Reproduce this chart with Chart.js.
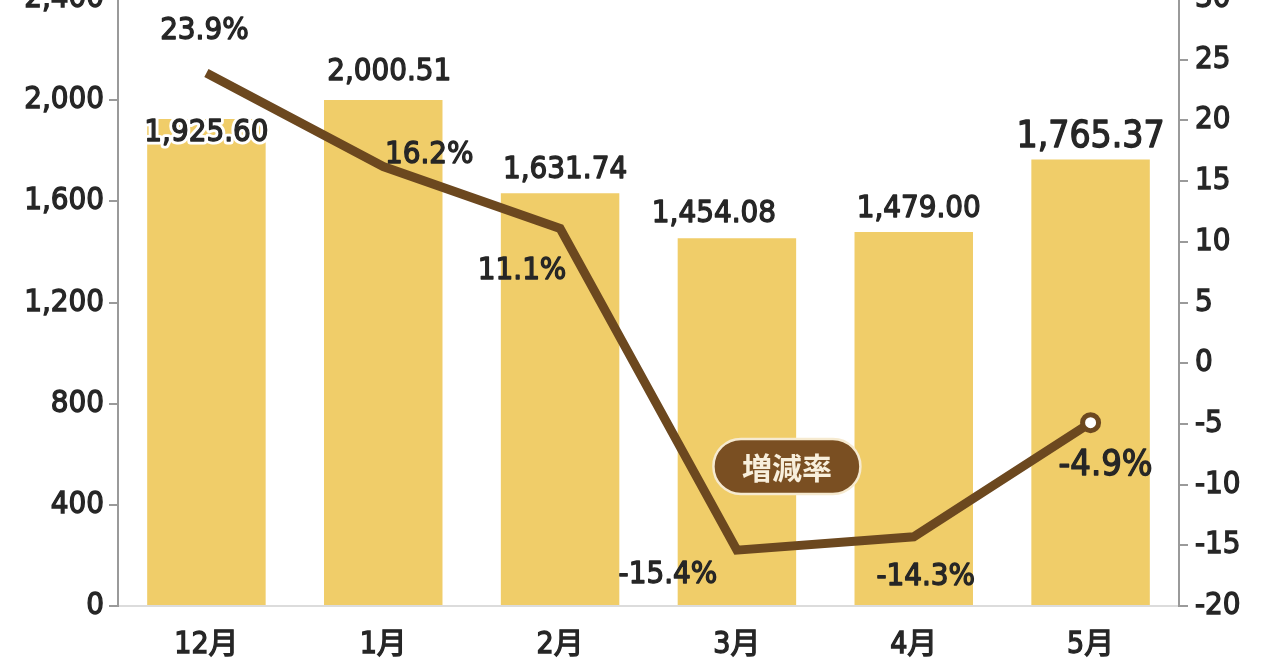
<!DOCTYPE html>
<html><head><meta charset="utf-8">
<script src="https://cdn.jsdelivr.net/npm/chart.js@4"></script>
<style>
html,body{margin:0;padding:0;background:#fff;overflow:hidden;width:1280px;height:669px;}
#wrap{position:absolute;left:0;top:-40px;width:1280px;height:709px;}
</style></head>
<body>
<div id="wrap"><canvas id="c"></canvas></div>
<script>
const categories = ['12月','1月','2月','3月','4月','5月'];
const salesValues = [1925.60, 2000.51, 1631.74, 1454.08, 1479.00, 1765.37];
const rateValues = [23.9, 16.2, 11.1, -15.4, -14.3, -4.9];
const leftTicks = [0, 400, 800, 1200, 1600, 2000, 2400];
const rightTicks = [-20, -15, -10, -5, 0, 5, 10, 15, 20, 25, 30];
const rateLabelName = '増減率';

// label placement (styles, not data)
const barLabelOffsets = [[0,14],[6,-28],[5,-23],[-23,-24],[5,-23],[0,-22]];
const rateLabelOffsets = [[-2,-42],[46,-12],[-38,43],[-69,25],[12,40],[15,43]];
const bigIndex = 5;

const FONT = "'DejaVu Sans Condensed', 'Noto Sans CJK JP', sans-serif";
const TEXT = '#262626';
const BROWN = '#6c481f';
const STROKE_W = 1.3;

const fmtSales = v => v.toLocaleString('en-US',{minimumFractionDigits:2,maximumFractionDigits:2});
const fmtRate = v => v.toFixed(1) + '%';

function boldText(ctx, s, x, y) {
  ctx.lineWidth = STROKE_W; ctx.strokeStyle = TEXT; ctx.lineJoin = 'round';
  ctx.strokeText(s, x, y);
  ctx.fillStyle = TEXT;
  ctx.fillText(s, x, y);
}

const labelPlugin = {
  id: 'labels',
  afterDatasetsDraw(chart) {
    const ctx = chart.ctx;
    const barMeta = chart.getDatasetMeta(1);
    const lineMeta = chart.getDatasetMeta(0);
    const yR = chart.scales.yR, x = chart.scales.x;
    ctx.save();
    ctx.textAlign = 'center';
    ctx.textBaseline = 'middle';
    // pill label
    const px = x.getPixelForValue(3) + 50, py = yR.getPixelForValue(-8.5);
    const w = 147, h = 55, r = 27.5;
    ctx.beginPath();
    ctx.roundRect(px - w/2, py - h/2, w, h, r);
    ctx.fillStyle = '#7a4f22';
    ctx.fill();
    ctx.lineWidth = 2.5;
    ctx.strokeStyle = '#f6ead0';
    ctx.stroke();
    ctx.fillStyle = '#f8efdc';
    ctx.font = "700 30px 'Noto Sans CJK JP', sans-serif";
    ctx.fillText(rateLabelName, px, py + 1);

    salesValues.forEach((v, i) => {
      const el = barMeta.data[i];
      const size = i === bigIndex ? 37 : 31;
      ctx.font = `${size}px ${FONT}`;
      const tx = el.x + barLabelOffsets[i][0], ty = el.y + barLabelOffsets[i][1];
      ctx.lineWidth = 7; ctx.strokeStyle = '#fff'; ctx.lineJoin = 'round';
      ctx.strokeText(fmtSales(v), tx, ty);
      boldText(ctx, fmtSales(v), tx, ty);
    });
    rateValues.forEach((v, i) => {
      const el = lineMeta.data[i];
      const size = i === bigIndex ? 36 : 31;
      ctx.font = `${size}px ${FONT}`;
      boldText(ctx, fmtRate(v), el.x + rateLabelOffsets[i][0], el.y + rateLabelOffsets[i][1]);
    });
    ctx.restore();
  }
};

const tickFont = { family: FONT, size: 31 };

new Chart(document.getElementById('c'), {
  data: {
    labels: categories,
    datasets: [
      {
        type: 'line', label: rateLabelName, data: rateValues, yAxisID: 'yR', order: 0,
        borderColor: BROWN, borderWidth: 9, tension: 0, fill: false,
        borderJoinStyle: 'miter', borderCapStyle: 'butt',
        pointRadius: rateValues.map((v, i) => i === rateValues.length - 1 ? 8 : 0),
        pointBackgroundColor: '#fff', pointBorderColor: BROWN, pointBorderWidth: 5,
        pointHoverRadius: 0
      },
      {
        type: 'bar', label: 'sales', data: salesValues, yAxisID: 'y', order: 1,
        backgroundColor: '#f0cd69', barPercentage: 0.67, categoryPercentage: 1.0
      }
    ]
  },
  options: {
    responsive: true, maintainAspectRatio: false, animation: false,
    layout: { padding: { top: 39, left: 0, right: 0, bottom: 0 } },
    plugins: { legend: { display: false }, tooltip: { enabled: false } },
    scales: {
      x: {
        grid: { display: false },
        border: { display: true, color: '#dcdcdc', width: 2 },
        ticks: { color: TEXT, font: { family: FONT, size: 30 }, padding: 13,
          textStrokeColor: TEXT, textStrokeWidth: STROKE_W },
        afterFit(s) { s.height = 63; }
      },
      y: {
        position: 'left', min: 0, max: 2400,
        afterBuildTicks(s) { s.ticks = leftTicks.map(v => ({ value: v })); },
        grid: { display: true, drawOnChartArea: false, drawTicks: true, tickLength: 9, color: '#9a9a9a', lineWidth: 2 },
        border: { display: true, color: '#9a9a9a', width: 2 },
        ticks: { color: TEXT, font: tickFont, padding: 5,
          textStrokeColor: TEXT, textStrokeWidth: STROKE_W,
          callback: v => v.toLocaleString('en-US') },
        afterFit(s) { s.width = 118; }
      },
      yR: {
        position: 'right', min: -20, max: 30,
        afterBuildTicks(s) { s.ticks = rightTicks.map(v => ({ value: v })); },
        grid: { display: true, drawOnChartArea: false, drawTicks: true, tickLength: 9, color: '#9a9a9a', lineWidth: 2 },
        border: { display: true, color: '#9a9a9a', width: 2 },
        ticks: { color: TEXT, font: tickFont, padding: 7,
          textStrokeColor: TEXT, textStrokeWidth: STROKE_W },
        afterFit(s) { s.width = 101; }
      }
    }
  },
  plugins: [labelPlugin]
});
</script>
</body></html>
